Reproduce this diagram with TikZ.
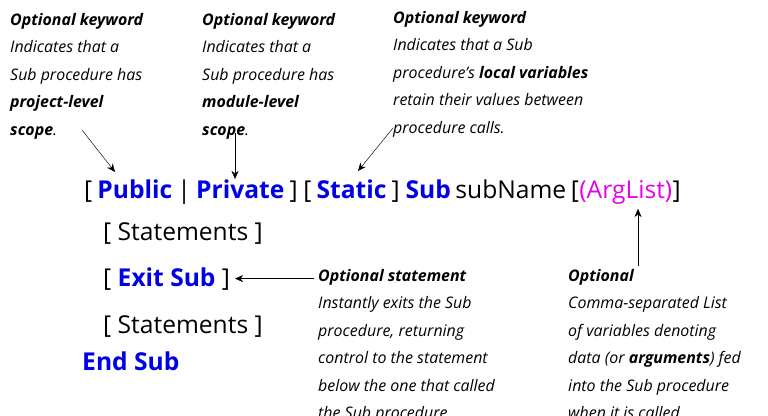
\documentclass[tikz,border=0pt]{standalone}
\usepackage{fontspec}
\setmainfont{Open Sans}
\usetikzlibrary{positioning,arrows.meta}
\definecolor{kwblue}{RGB}{0,0,230}
\definecolor{argpink}{RGB}{230,0,230}
\tikzset{
  note/.style = {anchor = north west, align = left, inner sep = 0pt, font = \fontsize{13.6}{23.4}\selectfont\itshape},
  code/.style = {inner sep = 0pt, font = \fontsize{21}{24}\selectfont, anchor = base west},
  kw/.style = {code, text = kwblue, font = \fontsize{21}{24}\selectfont\bfseries},
  pointer/.style = {-{Stealth[length = 7pt, width = 6pt]}, thin}
}
\begin{document}
\begin{tikzpicture}[x = 0.03cm, y = -0.03cm]
\useasboundingbox (0, 0) rectangle (768, 415);
% notes on top
\node [note] (noteA) at (10, 13) {\textbf{Optional keyword}\\Indicates that a\\Sub procedure has\\\textbf{project-level}\\\textbf{scope}.};
\node [note] (noteB) at (202, 13) {\textbf{Optional keyword}\\Indicates that a\\Sub procedure has\\\textbf{module-level}\\\textbf{scope}.};
\node [note] (noteC) at (393, 11) {\textbf{Optional keyword}\\Indicates that a Sub\\procedure’s \textbf{local variables}\\retain their values between\\procedure calls.};
% code lines
\node [code] (lbA) at (84, 198) {[};
\node [kw, right = 0.4em of lbA.base east, anchor = base west] (public) {Public};
\node [code, right = 0.4em of public.base east, anchor = base west] (bar) {|};
\node [kw, right = 0.4em of bar.base east, anchor = base west] (private) {Private};
\node [code, right = 0.4em of private.base east, anchor = base west] (rbA) {]};
\node [code, right = 0.45em of rbA.base east, anchor = base west] (lbB) {[};
\node [kw, right = 0.4em of lbB.base east, anchor = base west] (static) {Static};
\node [code, right = 0.4em of static.base east, anchor = base west] (rbB) {]};
\node [kw, right = 0.45em of rbB.base east, anchor = base west] (sub) {Sub};
\node [code, right = 0.35em of sub.base east, anchor = base west] (subname) {subName};
\node [code, right = 0.35em of subname.base east, anchor = base west] (lbC) {[};
\node [code, text = argpink, right = 0pt of lbC.base east, anchor = base west] (arglist) {(ArgList)};
\node [code, right = 0pt of arglist.base east, anchor = base west] (rbC) {]};
\node [code] (stmtA) at (103, 240) {[ Statements ]};
\node [code] (exitsub) at (103, 286) {[ \textcolor{kwblue}{\bfseries Exit Sub} ]};
\node [code] (stmtB) at (103, 333) {[ Statements ]};
\node [kw] (endsub) at (82, 370) {End Sub};
% notes below
\node [note] (noteD) at (318, 269) {\textbf{Optional statement}\\Instantly exits the Sub\\procedure, returning\\control to the statement\\below the one that called\\the Sub procedure.};
\node [note] (noteE) at (568, 269) {\textbf{Optional}\\Comma-separated List\\of variables denoting\\data (or \textbf{arguments}) fed\\into the Sub procedure\\when it is called.};
% pointers
\coordinate (tailA) at (82, 130);
\coordinate (tailB) at (235, 133);
\coordinate (tailC) at (393, 128);
\coordinate (tailE) at (638, 266);
\draw [pointer] (tailA) -- (115, 172);
\draw [pointer] (tailB) -- (private.north -| tailB);
\draw [pointer] (tailC) -- (358, 171);
\draw [pointer] (noteD.west |- exitsub.center) ++(-4, 0) coordinate (tailD) -- ([xshift = 4pt] exitsub.east);
\draw [pointer] (tailE) -- ([yshift = -4pt] tailE |- arglist.south);
\end{tikzpicture}
\end{document}
